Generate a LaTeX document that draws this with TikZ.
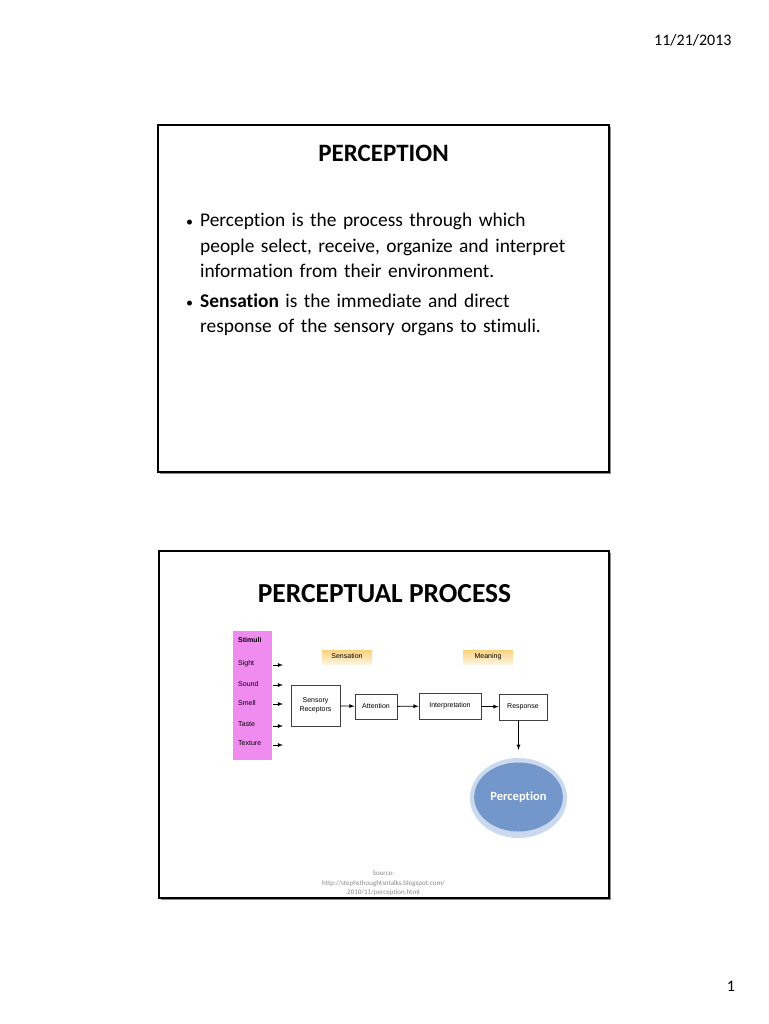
\documentclass[tikz,border=0pt]{standalone}
\usepackage{fontspec}
\setmainfont{Carlito}[Ligatures=NoCommon]
\newfontfamily\diagfont{Liberation Sans}
\usetikzlibrary{arrows,positioning,shapes,calc}
\definecolor{mpink}{HTML}{F08CF0}
\definecolor{morange}{HTML}{FAD27E}
\definecolor{mblue}{HTML}{7397CA}
\definecolor{mlblue}{HTML}{CAD9EE}
\definecolor{mgray}{HTML}{8A8A8A}
\tikzstyle{slide}=[draw=black, line width=1.2]
\tikzstyle{sbox}=[rectangle, draw=black!75, line width=0.8, fill=white, font=\diagfont\fontsize{7}{8.5}\selectfont, align=center, inner sep=0pt]
\tikzstyle{stag}=[rectangle, top color=morange, bottom color=morange!25, minimum width=50, minimum height=14, inner sep=0pt, text height=5.2, text depth=1.5, font=\diagfont\fontsize{7}{8}\selectfont]
\tikzstyle{slabel}=[anchor=west, inner sep=0pt, font=\diagfont\fontsize{7}{8}\selectfont]
\tikzstyle{l1}=[line width=0.8, -latex]
\tikzstyle{bullet}=[anchor=north west, inner sep=0pt, text width=400, align=left, font=\fontsize{19.4}{25.5}\selectfont]

\begin{document}
\begin{tikzpicture}[x=1pt, y=-1pt]
    \useasboundingbox[fill=white] (0,0) rectangle (768,1024);
    \node[anchor=east, font=\fontsize{16}{18}\selectfont] (date) at (735,40) {11/21/2013};
    \node[font=\fontsize{16}{18}\selectfont] (page) at (731,986) {1};

    % first slide
    \draw[mgray, line width=1.2] (160,473.5) -- (610.5,473.5) -- (610.5,127);
    \draw[slide] (158,125) rectangle (609,472);
    \node[font=\bfseries\fontsize{25}{28}\selectfont] (t1) at (383.5,153) {PERCEPTION};
    \node[bullet] (b1) at (186,213) {{\fontsize{14}{14}\selectfont\textbullet}\hspace{7pt}\parbox[t]{380pt}{\raggedright Perception is the process through which\\people select, receive, organize and interpret\\information from their environment.}};
    \node[bullet] (b2) at (186,293.5) {{\fontsize{14}{14}\selectfont\textbullet}\hspace{7pt}\parbox[t]{380pt}{\raggedright\textbf{Sensation} is the immediate and direct\\response of the sensory organs to stimuli.}};

    % second slide
    \draw[mgray, line width=1.2] (161,899.5) -- (610.5,899.5) -- (610.5,553);
    \draw[slide] (159,551) rectangle (609,898);
    \node[font=\bfseries\fontsize{27.5}{30}\selectfont] (t2) at (384.5,594) {PERCEPTUAL PROCESS};

    \fill[mpink] (233,631) rectangle (272,760);
    \node[slabel, font=\diagfont\bfseries\fontsize{7}{8}\selectfont] (stim) at (238,640) {Stimuli};
    \foreach \name/\lab/\ly/\ay in {sight/Sight/664/665, sound/Sound/684/685, smell/Smell/703/704, taste/Taste/724/726, texture/Texture/743/745} {
        \node[slabel] (\name) at (238,\ly) {\lab};
        \coordinate (\name a) at (273,\ay);
        \coordinate (\name b) at (283,\ay);
        \draw[l1] (\name a) -- (\name b);
    }

    \node[stag] (sens) at (347,657) {Sensation};
    \node[stag] (mean) at (488,657) {Meaning};

    \node[sbox, minimum width=49, minimum height=41] (rec) at (315.5,705.5) {Sensory\\Receptors};
    \node[sbox, minimum width=42, minimum height=25, text height=5.2, text depth=1.5] (att) at (376,706.5) {Attention};
    \node[sbox, minimum width=62, minimum height=26, text height=5.2, text depth=1.5] (int) at (450,706) {Interpretation};
    \node[sbox, minimum width=48, minimum height=26, text height=5.2, text depth=1.5] (resp) at (523,707) {Response};

    \node[ellipse, fill=mlblue, minimum width=97, minimum height=80] (percout) at (518.5,798) {};
    \node[ellipse, fill=mblue, minimum width=88, minimum height=69, text=white, font=\bfseries\fontsize{12.5}{14}\selectfont] (perc) at (518.5,797) {Perception};

    \draw[l1] (rec) -- (att);
    \draw[l1] (att) -- (int);
    \draw[l1] (int) -- (resp);
    \draw[l1, shorten >=8] (resp.south -| perc) -- (percout.north);

    \node[align=center, text=mgray, font=\fontsize{7}{9.5}\selectfont] (src) at (383.5,883.5) {Source:\\http://stephsthoughtsntalks.blogspot.com/\\2010/11/perception.html};
\end{tikzpicture}
\end{document}
